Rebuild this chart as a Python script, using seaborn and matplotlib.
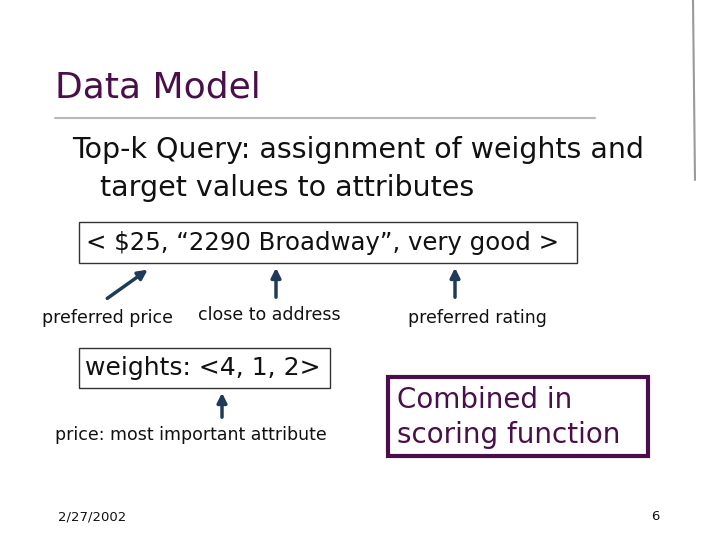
import matplotlib
matplotlib.use("Agg")
import matplotlib.pyplot as plt
import seaborn as sns

sns.set_theme(style="white")
plt.rcParams['font.family'] = ['DejaVu Sans']

title = "Data Model"
body_lines = ["Top-k Query: assignment of weights and", "target values to attributes"]
query_text = "< $25, \u201c2290 Broadway\u201d, very good >"
attr_labels = ["preferred price", "close to address", "preferred rating"]
weights_text = "weights: <4, 1, 2>"
weight_note = "price: most important attribute"
combined_lines = ["Combined in", "scoring function"]
footer_date = "2/27/2002"
page_no = "6"

purple = "#4a0f4a"
arrow_c = "#1f3a5a"

fig = plt.figure(figsize=(7.2, 5.4), dpi=100)
ax = fig.add_axes([0, 0, 1, 1])
ax.set_xlim(0, 720); ax.set_ylim(540, 0); ax.axis("off")

ax.text(55, 88, title, color=purple, fontsize=26, va="center", ha="left")
ax.plot([55, 595], [118, 118], color="#b8b8b8", lw=1.5)
ax.plot([693, 695], [0, 180], color="#9a9a9a", lw=1.5)

ax.text(72, 150, body_lines[0], fontsize=20.5, va="center", color="#111")
ax.text(100, 188, body_lines[1], fontsize=20.5, va="center", color="#111")

ax.add_patch(plt.Rectangle((79, 222), 498, 41, fill=False, ec="#333", lw=1))
ax.text(86, 243, query_text, fontsize=17.6, va="center", color="#111")

arrows = [((105, 300), (150, 268)), ((276, 300), (276, 265)), ((455, 300), (455, 265)),
          ((222, 420), (222, 390))]
for (x0, y0), (x1, y1) in arrows:
    ax.annotate("", xy=(x1, y1), xytext=(x0, y0),
                arrowprops=dict(arrowstyle="-|>", color=arrow_c, lw=2.5, mutation_scale=14))

for (x, y), lab in zip([(42, 318), (198, 315), (408, 318)], attr_labels):
    ax.text(x, y, lab, fontsize=12.5, va="center", color="#111")

ax.add_patch(plt.Rectangle((79, 348), 251, 40, fill=False, ec="#333", lw=1))
ax.text(85, 368, weights_text, fontsize=18, va="center", color="#111")
ax.text(55, 435, weight_note, fontsize=12.5, va="center", color="#111")

ax.add_patch(plt.Rectangle((388, 377), 260, 79, fill=False, ec=purple, lw=3))
ax.text(397, 400, combined_lines[0], fontsize=20, va="center", color=purple)
ax.text(397, 435, combined_lines[1], fontsize=20, va="center", color=purple)

ax.text(58, 517, footer_date, fontsize=9.5, va="center", color="#111")
ax.text(659, 517, page_no, fontsize=9.5, va="center", ha="right", color="#111")

fig.savefig("out.png", dpi=100)
